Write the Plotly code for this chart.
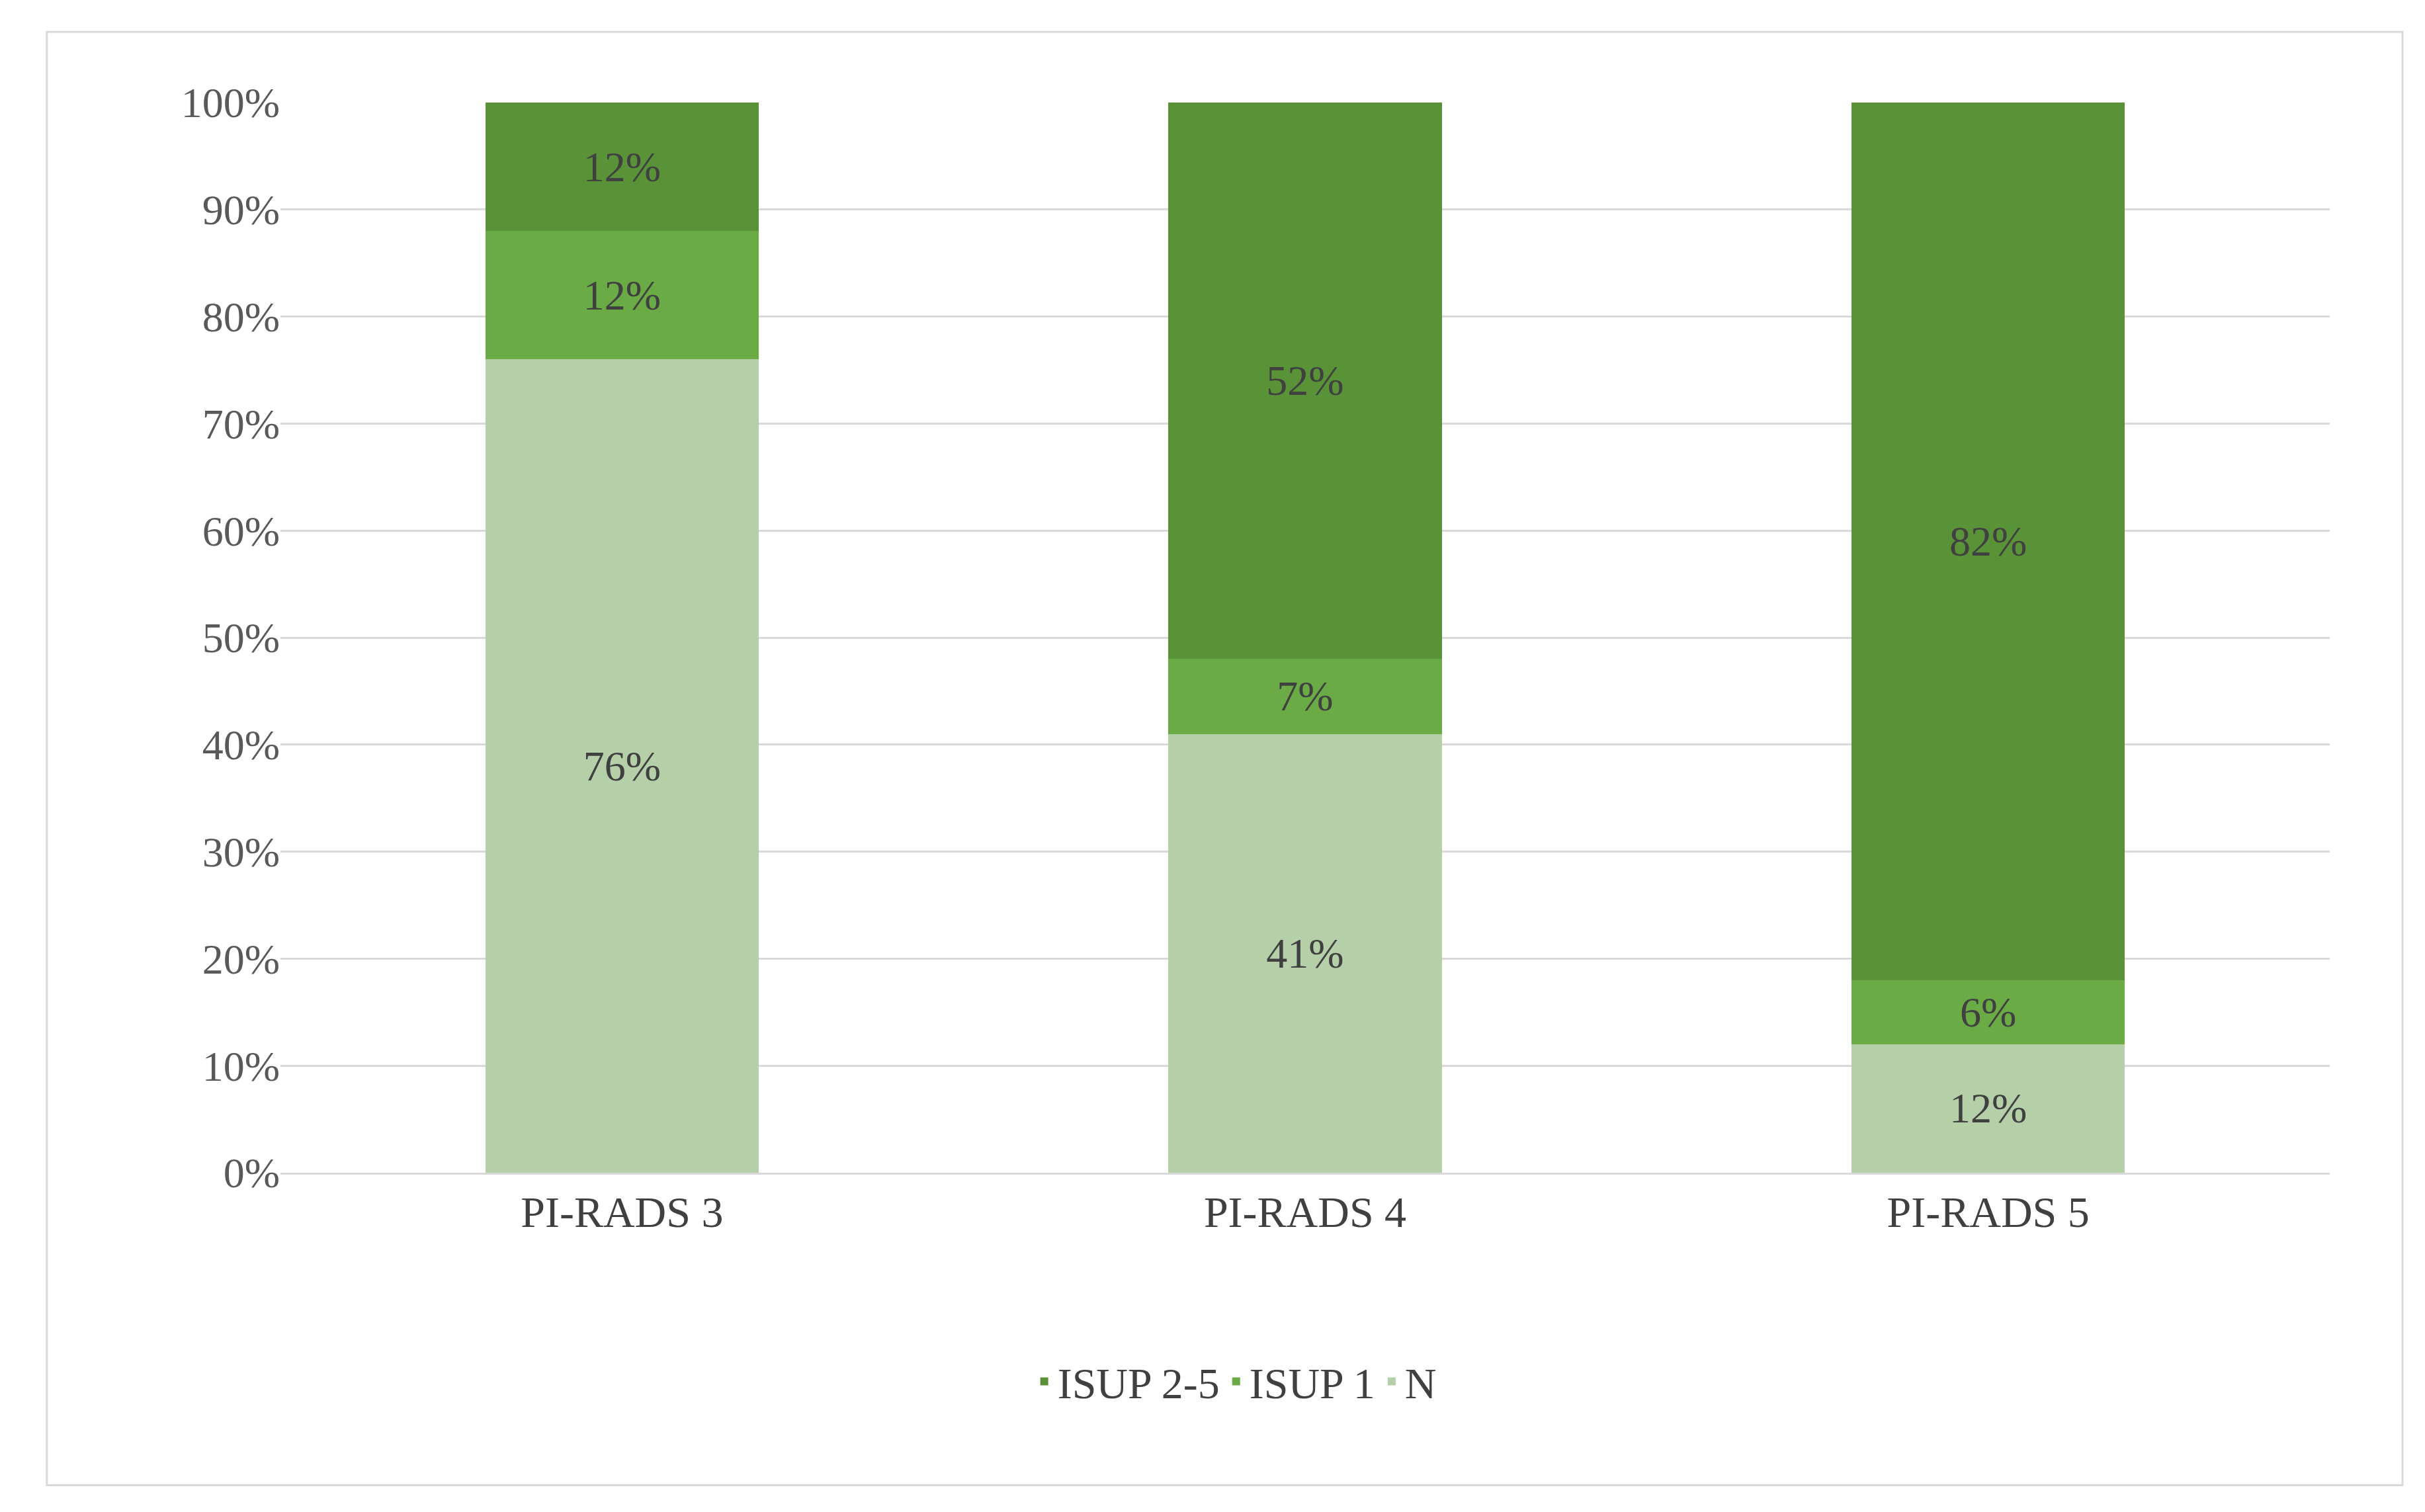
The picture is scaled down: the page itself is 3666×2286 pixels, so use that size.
# stacked percentage bars by PI-RADS category
import plotly.graph_objects as go

categories = ["PI-RADS 3", "PI-RADS 4", "PI-RADS 5"]
n_vals = [76, 41, 12]
isup1_vals = [12, 7, 6]
isup25_vals = [12, 52, 82]
series_names = ["N", "ISUP 1", "ISUP 2-5"]
colors = ["#b5cfa8", "#6aab46", "#5a9238"]
tick_vals = list(range(0, 101, 10))
tick_text = [f"{v}%" for v in tick_vals]

FONT = "Liberation Serif"

fig = go.Figure()
for name, vals, col in zip(series_names, [n_vals, isup1_vals, isup25_vals], colors):
    fig.add_trace(go.Bar(
        x=categories, y=vals, name=name, marker_color=col,
        marker_line_width=0, width=0.4,
        text=[f"{v}%" for v in vals], textposition="inside",
        insidetextanchor="middle",
        textfont=dict(family=FONT, size=64, color="#404040"),
    ))

fig.update_layout(
    barmode="stack",
    width=3666, height=2286,
    paper_bgcolor="white", plot_bgcolor="white",
    margin=dict(l=416, r=152, t=147, b=521),
    font=dict(family=FONT, size=66, color="#404040"),
    uniformtext=dict(minsize=64, mode="show"),
    legend=dict(orientation="h", x=0.466, xanchor="center", y=-0.195,
                yanchor="middle", font=dict(size=66, color="#404040"),
                itemwidth=30),
    showlegend=True,
)
fig.update_yaxes(range=[0, 100], tickvals=tick_vals, ticktext=tick_text,
                 gridcolor="#d9d9d9", gridwidth=3, zeroline=False,
                 showline=False, ticks="", ticklen=0,
                 tickfont=dict(size=64, color="#595959"))
fig.update_xaxes(showline=True, linecolor="#d9d9d9", linewidth=3,
                 tickfont=dict(size=66, color="#404040"), ticks="")
fig.add_shape(type="rect", xref="paper", yref="paper",
              x0=-0.114, x1=1.0355, y0=-0.292, y1=1.066,
              line=dict(color="#d9d9d9", width=3))

fig.write_html("out.html")
